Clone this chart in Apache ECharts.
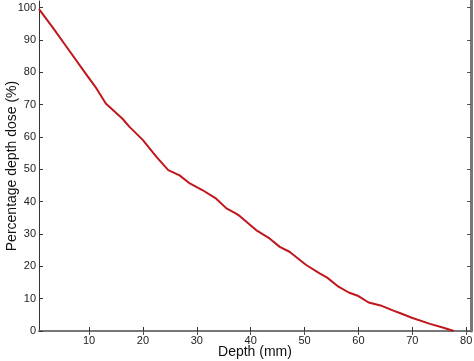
<!DOCTYPE html>
<html><head><meta charset="utf-8">
<script src="https://cdn.jsdelivr.net/npm/echarts@6/dist/echarts.min.js"></script>
<style>html,body{margin:0;padding:0;background:#fff}#c{width:474px;height:361px}</style>
</head><body><div id="c"></div>
<script>
const depth = [0.7, 3.2, 6.3, 9.4, 11.4, 13.1, 16.2, 17.5, 20.0, 22.5, 24.7, 26.8, 28.7, 31.1, 33.6, 35.5, 37.3, 38.0, 41.0, 43.5, 45.4, 47.2, 50.3, 52.8, 54.2, 56.3, 58.2, 60.0, 61.9, 64.1, 66.5, 67.8, 69.9, 73.3, 75.8, 77.7];
const dose  = [99.5, 93.9, 86.7, 79.5, 74.9, 70.3, 65.6, 63.1, 59.0, 53.8, 49.7, 48.1, 45.6, 43.5, 40.9, 37.9, 36.3, 35.5, 31.2, 28.6, 26.0, 24.5, 20.4, 17.8, 16.5, 13.7, 11.9, 10.8, 8.8, 7.9, 6.3, 5.5, 4.1, 2.2, 1.0, 0.0];
const xTicks = [10, 20, 30, 40, 50, 60, 70, 80];
const yTicks = [0, 10, 20, 30, 40, 50, 60, 70, 80, 90, 100];

const font = 'Liberation Sans, Arial, sans-serif';
const chart = echarts.init(document.getElementById('c'), null, {renderer: 'canvas'});
const baseX = {min: 0.7, max: 80.9, type: 'value', splitLine: {show: false}};
const baseY = {min: 0, max: 102, type: 'value', splitLine: {show: false}};
chart.setOption({
  animation: false,
  grid: {left: 39, right: 3, top: 1, bottom: 30, containLabel: false, outerBoundsMode: 'none'},
  xAxis: [
    Object.assign({}, baseX, {
      position: 'bottom',
      name: 'Depth (mm)', nameLocation: 'middle', nameGap: 14, nameMoveOverlap: false,
      nameTextStyle: {fontFamily: font, fontSize: 14, color: '#111'},
      axisLine: {lineStyle: {color: '#333', width: 1}},
      axisTick: {inside: true, length: 4, customValues: xTicks, lineStyle: {color: '#333'}},
      axisLabel: {customValues: xTicks, fontFamily: font, fontSize: 11, color: '#222', margin: 4}
    }),
    Object.assign({}, baseX, {
      position: 'top',
      axisLine: {lineStyle: {color: '#777', width: 2}},
      axisTick: {inside: true, length: 4, customValues: xTicks, lineStyle: {color: '#555'}},
      axisLabel: {show: false}
    })
  ],
  yAxis: [
    Object.assign({}, baseY, {
      position: 'left',
      name: 'Percentage depth dose (%)', nameLocation: 'middle', nameGap: 20, nameMoveOverlap: false,
      nameTextStyle: {fontFamily: font, fontSize: 14, color: '#111'},
      axisLine: {lineStyle: {color: '#333', width: 1}},
      axisTick: {inside: true, length: 4, customValues: yTicks, lineStyle: {color: '#333'}},
      axisLabel: {customValues: yTicks, fontFamily: font, fontSize: 11, color: '#222', margin: 3}
    }),
    Object.assign({}, baseY, {
      position: 'right',
      axisLine: {lineStyle: {color: '#777', width: 3}},
      axisTick: {inside: true, length: 4, customValues: yTicks, lineStyle: {color: '#555'}},
      axisLabel: {show: false}
    })
  ],
  series: [{
    type: 'line',
    data: depth.map((d, i) => [d, dose[i]]),
    showSymbol: false,
    smooth: false,
    lineStyle: {color: '#c0161c', width: 2},
    xAxisIndex: 0, yAxisIndex: 0
  }]
});
</script></body></html>
